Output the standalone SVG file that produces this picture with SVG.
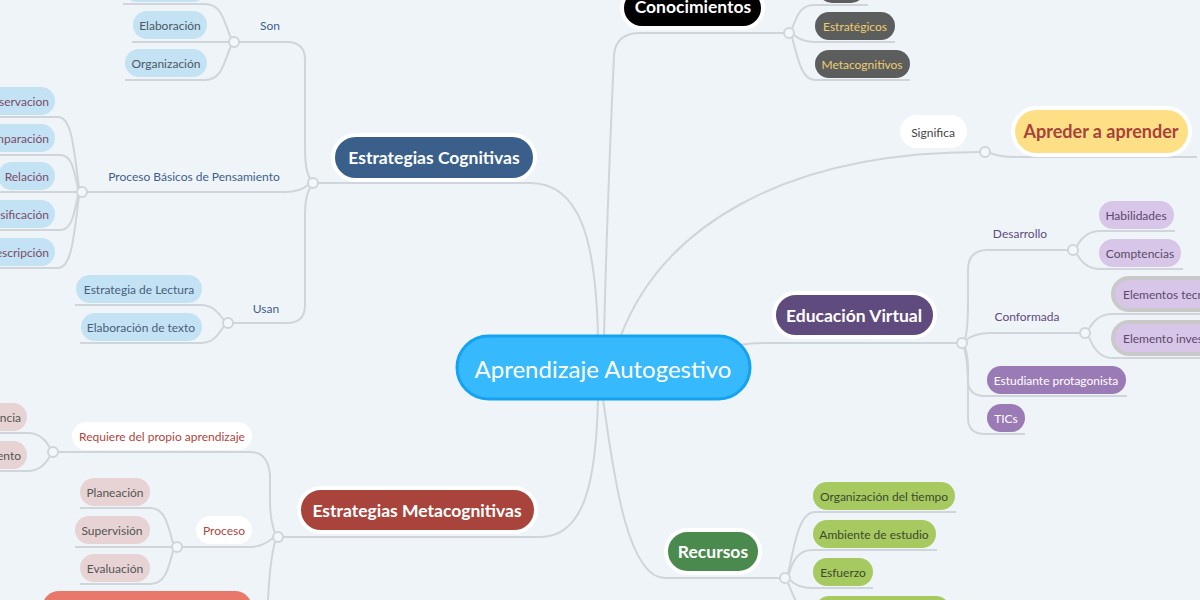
<svg xmlns="http://www.w3.org/2000/svg" width="1200" height="600" viewBox="0 0 1200 600">
<style>
.ln{fill:none;stroke:#cfd5da;stroke-width:2}
.dot{fill:#f4f7fa;stroke:#cfd5da;stroke-width:2}
text{font-family:Lato,"Liberation Sans",sans-serif;dominant-baseline:central}
.s{font-size:12px}
.b{font-size:17.5px;font-weight:bold;fill:#fff;text-anchor:middle}
.main{stroke:#fff;stroke-width:4}
.blue{fill:#c3e2f3}
.pink{fill:#e7d3d3}
.lav{fill:#d8c6e8}
.lime{fill:#a6c960}
.gray{fill:#5c5e5d}
.lbl{fill:#fff}
</style>
<rect width="1200" height="600" fill="#eff4f8"/>
<g id="connectors">
<path class="ln" d="M598 337 C596 240 580 183 530 183 L318 183"/>
<path class="ln" d="M310 179 Q305 170 305 150 L305 60 Q305 42 287 42 L239 42"/>
<path class="ln" d="M308 185 Q300 192 285 192 L87 192"/>
<path class="ln" d="M310 188 Q305 196 305 215 L305 305 Q305 323 287 323 L233 323"/>
<path class="ln" d="M231 38 C224 22 222 4 205 4 L123 4"/>
<path class="ln" d="M229 42 L132 42"/>
<path class="ln" d="M231 46 C224 62 222 80 205 80 L125 80"/>
<path class="ln" d="M79 188 C74 150 72 117 58 117 L0 117"/>
<path class="ln" d="M78 189 C74 170 72 155 60 155 L0 155"/>
<path class="ln" d="M77 192 L0 192"/>
<path class="ln" d="M78 195 C74 214 72 230 60 230 L0 230"/>
<path class="ln" d="M79 196 C74 234 72 268 58 268 L0 268"/>
<path class="ln" d="M224 320 C216 310 212 305 200 305 L75 305"/>
<path class="ln" d="M224 326 C216 338 212 343 200 343 L80 343"/>
<path class="ln" d="M604 337 C606 250 612 100 614 55 Q616 33 640 33 L784 33"/>
<path class="ln" d="M792 29 C798 12 802 5 815 5 L868 5"/>
<path class="ln" d="M794 35 Q802 42 815 42 L895 42"/>
<path class="ln" d="M792 37 C798 60 802 80 815 80 L910 80"/>
<path class="ln" d="M620 338 C660 230 780 152 980 152"/>
<path class="ln" d="M990 153 Q1000 157 1015 157 L1197 157"/>
<path class="ln" d="M740 345 Q750 343 765 343 L957 343"/>
<path class="ln" d="M965 339 Q968 330 968 300 L968 270 Q968 250 988 250 L1068 250"/>
<path class="ln" d="M966 340 Q975 333 990 333 L1080 333"/>
<path class="ln" d="M965 347 Q968 355 968 370 L968 380 Q968 396 985 396 L1127 396"/>
<path class="ln" d="M964 348 Q968 360 968 390 L968 418 Q968 434 985 434 L1025 434"/>
<path class="ln" d="M1077 246 Q1085 231 1100 231 L1175 231"/>
<path class="ln" d="M1077 254 Q1085 269 1100 269 L1183 269"/>
<path class="ln" d="M1089 329 Q1097 314 1112 314 L1200 314"/>
<path class="ln" d="M1089 337 Q1097 358 1112 358 L1200 358"/>
<path class="ln" d="M603 399 C612 460 625 578 665 578 L780 578"/>
<path class="ln" d="M788 574 C795 540 800 512 815 512 L956 512"/>
<path class="ln" d="M789 574 Q795 550 812 550 L937 550"/>
<path class="ln" d="M790 580 Q798 588 812 588 L873 588"/>
<path class="ln" d="M788 583 Q795 600 800 610"/>
<path class="ln" d="M598 400 C596 480 585 537 540 537 L283 537"/>
<path class="ln" d="M275 533 Q270 520 270 500 L270 475 Q268 452 250 452 L58 452"/>
<path class="ln" d="M273 538 Q262 547 250 547 L182 547"/>
<path class="ln" d="M275 542 Q270 560 268 600"/>
<path class="ln" d="M50 448 Q42 433 28 433 L0 433"/>
<path class="ln" d="M50 456 Q42 471 28 471 L0 471"/>
<path class="ln" d="M173 543 C168 525 165 508 150 508 L80 508"/>
<path class="ln" d="M172 547 L75 547"/>
<path class="ln" d="M173 551 C168 570 165 584 150 584 L80 584"/>
<circle class="dot" cx="313" cy="183" r="5"/>
<circle class="dot" cx="234" cy="42" r="5"/>
<circle class="dot" cx="82" cy="192" r="5"/>
<circle class="dot" cx="228" cy="323" r="5"/>
<circle class="dot" cx="789" cy="33" r="5"/>
<circle class="dot" cx="985" cy="152" r="5"/>
<circle class="dot" cx="962" cy="343" r="5"/>
<circle class="dot" cx="1073" cy="250" r="5"/>
<circle class="dot" cx="1085" cy="333" r="5"/>
<circle class="dot" cx="785" cy="578" r="5"/>
<circle class="dot" cx="278" cy="537" r="5"/>
<circle class="dot" cx="53" cy="452" r="5"/>
<circle class="dot" cx="177" cy="547" r="5"/>
</g>
<g id="center">
<rect x="457" y="336" width="293" height="63" rx="31.5" fill="#36b9fd" stroke="#13a3f2" stroke-width="3"/>
<text x="603" y="368" text-anchor="middle" font-size="24" fill="#fff">Aprendizaje Autogestivo</text>
</g>
<g id="estrategias-cognitivas">
<rect class="main" x="333" y="135" width="202" height="45" rx="22.5" fill="#3a5f8a"/>
<text class="b" x="434" y="157">Estrategias Cognitivas</text>
</g>
<g id="son"><text class="s" x="270" y="25" text-anchor="middle" fill="#3e5f8a">Son</text></g>
<g id="son-top"><rect class="blue" x="123" y="-26" width="84" height="28" rx="14"/></g>
<g id="elaboracion"><rect class="blue" x="133" y="11" width="74" height="28" rx="14"/><text class="s" x="170" y="25" text-anchor="middle" fill="#4d5966">Elaboración</text></g>
<g id="organizacion"><rect class="blue" x="125" y="49" width="82" height="28" rx="14"/><text class="s" x="166" y="63" text-anchor="middle" fill="#4d5966">Organización</text></g>
<g id="proceso-basicos"><text class="s" x="194" y="176" text-anchor="middle" fill="#3e5f8a">Proceso Básicos de Pensamiento</text></g>
<g id="observacion"><rect class="blue" x="-30" y="87" width="85" height="28" rx="14"/><text class="s" x="49" y="101" text-anchor="end" fill="#7a4d6c">Observacion</text></g>
<g id="comparacion"><rect class="blue" x="-30" y="124" width="85" height="28" rx="14"/><text class="s" x="49" y="138" text-anchor="end" fill="#7a4d6c">Comparación</text></g>
<g id="relacion"><rect class="blue" x="-2" y="162" width="57" height="28" rx="14"/><text class="s" x="49" y="176" text-anchor="end" fill="#7a4d6c">Relación</text></g>
<g id="clasificacion"><rect class="blue" x="-30" y="200" width="85" height="28" rx="14"/><text class="s" x="49" y="214" text-anchor="end" fill="#7a4d6c">Clasificación</text></g>
<g id="descripcion"><rect class="blue" x="-30" y="238" width="85" height="28" rx="14"/><text class="s" x="49" y="252" text-anchor="end" fill="#7a4d6c">Descripción</text></g>
<g id="usan"><text class="s" x="266" y="308" text-anchor="middle" fill="#3e5f8a">Usan</text></g>
<g id="estrategia-lectura"><rect class="blue" x="76" y="275" width="126" height="28" rx="14"/><text class="s" x="139" y="289" text-anchor="middle" fill="#4a5f7a">Estrategia de Lectura</text></g>
<g id="elaboracion-texto"><rect class="blue" x="81" y="313" width="121" height="28" rx="14"/><text class="s" x="141" y="327" text-anchor="middle" fill="#4a5f7a">Elaboración de texto</text></g>
<g id="conocimientos">
<rect class="main" x="622" y="-12" width="141" height="40" rx="20" fill="#000"/>
<text class="b" x="693" y="6">Conocimientos</text>
</g>
<g id="con-top"><rect class="gray" x="818" y="-25" width="47" height="28" rx="14"/></g>
<g id="estrategicos"><rect class="gray" x="815" y="12" width="80" height="28" rx="14"/><text class="s" x="855" y="26" text-anchor="middle" fill="#edcd6e">Estratégicos</text></g>
<g id="metacognitivos"><rect class="gray" x="815" y="50" width="95" height="28" rx="14"/><text class="s" x="862" y="64" text-anchor="middle" fill="#edcd6e">Metacognitivos</text></g>
<g id="significa"><rect class="lbl" x="900" y="115" width="67" height="33" rx="16.5"/><text class="s" x="933" y="132" text-anchor="middle" fill="#444">Significa</text></g>
<g id="apreder">
<rect class="main" x="1013" y="108" width="177" height="47" rx="23.5" fill="#fde086"/>
<text x="1101" y="131" text-anchor="middle" font-size="18" font-weight="bold" fill="#a8423a">Apreder a aprender</text>
</g>
<g id="educacion-virtual">
<rect class="main" x="774" y="293" width="161" height="44" rx="22" fill="#5f4b7e"/>
<text class="b" x="854" y="315">Educación Virtual</text>
</g>
<g id="desarrollo"><text class="s" x="1020" y="233" text-anchor="middle" fill="#5f4b7e">Desarrollo</text></g>
<g id="habilidades"><rect class="lav" x="1099" y="201" width="75" height="28" rx="14"/><text class="s" x="1136" y="215" text-anchor="middle" fill="#5a4a6a">Habilidades</text></g>
<g id="comptencias"><rect class="lav" x="1099" y="239" width="82" height="28" rx="14"/><text class="s" x="1140" y="253" text-anchor="middle" fill="#5a4a6a">Comptencias</text></g>
<g id="conformada"><text class="s" x="1027" y="316" text-anchor="middle" fill="#5f4b7e">Conformada</text></g>
<g id="elementos-tec"><rect class="lav" x="1113" y="278" width="140" height="32" rx="16" stroke="#c9c9c9" stroke-width="4"/><text class="s" x="1123" y="294" fill="#5a4a6a">Elementos tecnológicos</text></g>
<g id="elemento-inv"><rect class="lav" x="1113" y="322" width="140" height="32" rx="16" stroke="#c9c9c9" stroke-width="4"/><text class="s" x="1123" y="338" fill="#5a4a6a">Elemento investigativo</text></g>
<g id="estudiante"><rect x="987" y="366" width="139" height="28" rx="14" fill="#9b7bb5"/><text class="s" x="1056" y="380" text-anchor="middle" fill="#fff">Estudiante protagonista</text></g>
<g id="tics"><rect x="987" y="404" width="38" height="28" rx="14" fill="#9b7bb5"/><text class="s" x="1006" y="418" text-anchor="middle" fill="#fff">TICs</text></g>
<g id="recursos">
<rect class="main" x="666" y="530" width="94" height="43" rx="21.5" fill="#4a8a4e"/>
<text class="b" x="713" y="551">Recursos</text>
</g>
<g id="org-tiempo"><rect class="lime" x="813" y="482" width="142" height="28" rx="14"/><text class="s" x="884" y="496" text-anchor="middle" fill="#3d4a30">Organización del tiempo</text></g>
<g id="ambiente"><rect class="lime" x="813" y="520" width="123" height="28" rx="14"/><text class="s" x="874" y="534" text-anchor="middle" fill="#3d4a30">Ambiente de estudio</text></g>
<g id="esfuerzo"><rect class="lime" x="813" y="558" width="60" height="28" rx="14"/><text class="s" x="843" y="572" text-anchor="middle" fill="#3d4a30">Esfuerzo</text></g>
<g id="rec-bottom"><rect class="lime" x="815" y="596" width="135" height="28" rx="14"/></g>
<g id="estrategias-metacognitivas">
<rect class="main" x="299" y="488" width="237" height="44" rx="22" fill="#a8443c"/>
<text class="b" x="417" y="510">Estrategias Metacognitivas</text>
</g>
<g id="requiere"><rect class="lbl" x="72" y="422" width="180" height="28" rx="14"/><text class="s" x="162" y="436" text-anchor="middle" fill="#b0453d">Requiere del propio aprendizaje</text></g>
<g id="conciencia"><rect class="pink" x="-40" y="403" width="67" height="28" rx="14"/><text class="s" x="21" y="417" text-anchor="end" fill="#555">Conciencia</text></g>
<g id="conocimiento"><rect class="pink" x="-60" y="441" width="87" height="28" rx="14"/><text class="s" x="21" y="455" text-anchor="end" fill="#555">Conocimiento</text></g>
<g id="proceso"><rect class="lbl" x="196" y="516" width="56" height="28" rx="14"/><text class="s" x="224" y="530" text-anchor="middle" fill="#b0453d">Proceso</text></g>
<g id="planeacion"><rect class="pink" x="80" y="478" width="70" height="28" rx="14"/><text class="s" x="115" y="492" text-anchor="middle" fill="#555">Planeación</text></g>
<g id="supervision"><rect class="pink" x="75" y="516" width="75" height="28" rx="14"/><text class="s" x="112" y="530" text-anchor="middle" fill="#555">Supervisión</text></g>
<g id="evaluacion"><rect class="pink" x="80" y="554" width="70" height="28" rx="14"/><text class="s" x="115" y="568" text-anchor="middle" fill="#555">Evaluación</text></g>
<g id="meta-bottom"><rect x="42" y="591" width="210" height="34" rx="17" fill="#e8776c"/></g>
</svg>
